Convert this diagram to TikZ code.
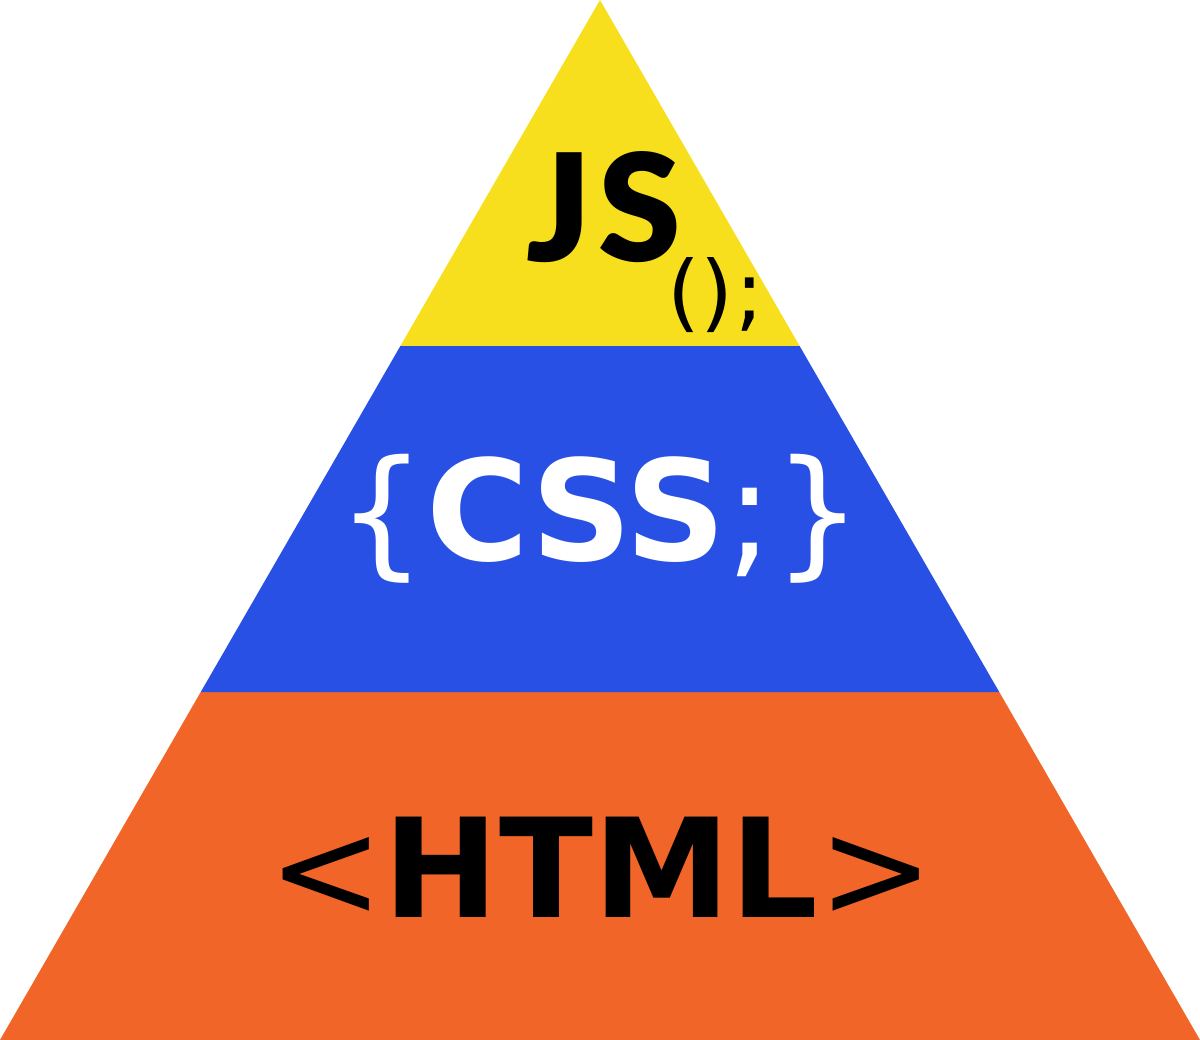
\documentclass[tikz,border=0pt]{standalone}
\usepackage{fontspec}
\newfontfamily\dejavu{DejaVu Sans}
\newfontfamily\latoblack{Lato Black}
\usepackage{pgf,tikz}
\usetikzlibrary{calc}
\definecolor{jsyellow}{RGB}{247,223,30}
\definecolor{cssblue}{RGB}{41,80,229}
\definecolor{htmlorange}{RGB}{241,101,41}
\tikzset{layer/.style={inner sep=0pt,anchor=base}}

\begin{document}
\begin{tikzpicture}[line cap=round,line join=round,x=1.0cm,y=1.0cm]
\useasboundingbox (0,0) rectangle (12,10.4);
\coordinate (bl) at (0,0);
\coordinate (br) at (12,0);
\coordinate (top) at (6,10.4);
\coordinate (l1) at ($(bl)!0.3346!(top)$);
\coordinate (r1) at ($(br)!0.3346!(top)$);
\coordinate (l2) at ($(bl)!0.6673!(top)$);
\coordinate (r2) at ($(br)!0.6673!(top)$);
\fill[htmlorange] (bl) -- (br) -- (r1) -- (l1) -- cycle;
\fill[cssblue] (l1) -- (r1) -- (r2) -- (l2) -- cycle;
\fill[jsyellow] (l2) -- (r2) -- (top) -- cycle;
% labels
\node[layer,font=\latoblack\fontsize{42.5}{42.5}\selectfont] (js) at (6.04,7.78) {J\kern0.05em S};
\node[layer,font=\dejavu\fontsize{24}{24}\selectfont] (call) at (7.16,7.18) {()\kern0.03em;};
\node[layer,text=white,font=\dejavu\fontsize{39.8}{39.8}\selectfont] (css) at (6,4.79) {\{\textbf{CSS};\}};
\node[layer,font=\dejavu\fontsize{39.2}{39.2}\selectfont] (html) at (6.01,1.22) {<\textbf{HTML}>};
\end{tikzpicture}
\end{document}
